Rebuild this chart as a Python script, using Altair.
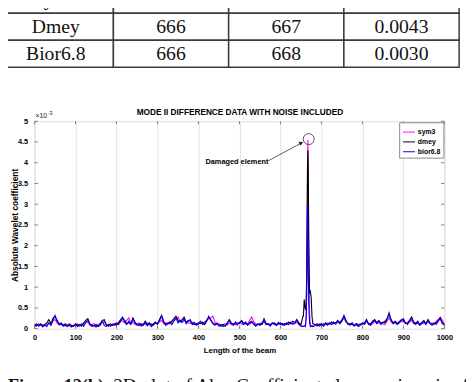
import altair as alt
import pandas as pd

# ---------------- data ----------------
series_names = ["sym3", "dmey", "bior6.8"]
series_colors = ["#ff00ff", "#000000", "#0000ff"]

x_grid = list(range(0, 1001, 5))  # sampling positions along the beam

# values in units of 1e-3
sym3_noise = [
    0.10, 0.06, 0.12, 0.08, 0.10, 0.06, 0.10, 0.12, 0.10, 0.18, 0.22, 0.14, 0.08, 0.12, 0.10, 0.06, 0.10, 0.12, 0.06, 0.08,
    0.08, 0.12, 0.06, 0.10, 0.12, 0.14, 0.16, 0.08, 0.10, 0.12, 0.06, 0.10, 0.12, 0.14, 0.16, 0.08, 0.10, 0.06, 0.12, 0.08,
    0.10, 0.16, 0.20, 0.18, 0.14, 0.20, 0.26, 0.12, 0.16, 0.10, 0.12, 0.14, 0.08, 0.12, 0.10, 0.14, 0.10, 0.12, 0.08, 0.12,
    0.14, 0.16, 0.20, 0.12, 0.14, 0.10, 0.18, 0.14, 0.20, 0.22, 0.28, 0.18, 0.14, 0.20, 0.16, 0.14, 0.12, 0.16, 0.12, 0.10,
    0.10, 0.14, 0.12, 0.16, 0.20, 0.24, 0.26, 0.30, 0.16, 0.10, 0.12, 0.08, 0.10, 0.12, 0.08, 0.14, 0.10, 0.12, 0.10, 0.08,
    0.16, 0.12, 0.10, 0.14, 0.12, 0.20, 0.28, 0.16, 0.12, 0.10, 0.08, 0.12, 0.16, 0.10, 0.12, 0.10, 0.14, 0.12, 0.08, 0.10,
    0.12, 0.08, 0.10, 0.12, 0.10, 0.14, 0.10, 0.12, 0.16, 0.10, 0.08, 0.06, 0.06, 0.40, 0.30, 0.06, 0.08, 0.10, 0.06, 0.12,
    0.08, 0.12, 0.10, 0.14, 0.12, 0.10, 0.14, 0.10, 0.16, 0.12, 0.20, 0.24, 0.16, 0.12, 0.10, 0.14, 0.08, 0.12, 0.10, 0.12,
    0.10, 0.12, 0.16, 0.14, 0.10, 0.12, 0.18, 0.12, 0.14, 0.16, 0.12, 0.10, 0.18, 0.26, 0.16, 0.12, 0.14, 0.10, 0.18, 0.16,
    0.18, 0.14, 0.12, 0.16, 0.20, 0.12, 0.14, 0.12, 0.10, 0.16, 0.12, 0.14, 0.16, 0.12, 0.14, 0.10, 0.18, 0.22, 0.28, 0.20,
    0.12,
]
dmey_noise = [
    0.05, 0.10, 0.08, 0.12, 0.06, 0.10, 0.14, 0.22, 0.12, 0.25, 0.30, 0.20, 0.12, 0.10, 0.08, 0.12, 0.06, 0.10, 0.08, 0.05,
    0.12, 0.08, 0.10, 0.06, 0.14, 0.20, 0.24, 0.12, 0.08, 0.06, 0.10, 0.05, 0.08, 0.18, 0.22, 0.10, 0.06, 0.12, 0.08, 0.10,
    0.14, 0.10, 0.18, 0.25, 0.20, 0.12, 0.15, 0.10, 0.26, 0.16, 0.10, 0.08, 0.12, 0.08, 0.18, 0.10, 0.14, 0.08, 0.12, 0.16,
    0.10, 0.22, 0.32, 0.18, 0.10, 0.14, 0.12, 0.18, 0.24, 0.30, 0.20, 0.16, 0.22, 0.28, 0.15, 0.20, 0.18, 0.12, 0.10, 0.12,
    0.14, 0.12, 0.16, 0.10, 0.18, 0.30, 0.20, 0.14, 0.10, 0.12, 0.08, 0.06, 0.10, 0.06, 0.12, 0.22, 0.14, 0.10, 0.12, 0.14,
    0.12, 0.20, 0.14, 0.12, 0.10, 0.12, 0.16, 0.12, 0.08, 0.10, 0.12, 0.10, 0.24, 0.12, 0.10, 0.08, 0.12, 0.14, 0.10, 0.12,
    0.14, 0.10, 0.12, 0.10, 0.16, 0.12, 0.18, 0.14, 0.22, 0.14, 0.10, 0.30, 0.50, 0.80, 0.85, 0.60, 0.12, 0.10, 0.08, 0.10,
    0.12, 0.08, 0.14, 0.10, 0.12, 0.16, 0.12, 0.14, 0.20, 0.12, 0.18, 0.32, 0.20, 0.10, 0.12, 0.10, 0.08, 0.12, 0.08, 0.10,
    0.12, 0.14, 0.22, 0.10, 0.12, 0.18, 0.22, 0.14, 0.20, 0.12, 0.16, 0.14, 0.22, 0.38, 0.22, 0.14, 0.18, 0.12, 0.16, 0.22,
    0.20, 0.12, 0.14, 0.20, 0.28, 0.16, 0.12, 0.18, 0.10, 0.14, 0.20, 0.12, 0.22, 0.14, 0.10, 0.12, 0.14, 0.20, 0.26, 0.14,
    0.08,
]
bior_noise = [
    0.08, 0.12, 0.06, 0.10, 0.04, 0.09, 0.05, 0.15, 0.08, 0.20, 0.32, 0.18, 0.10, 0.14, 0.06, 0.09, 0.05, 0.08, 0.04, 0.07,
    0.10, 0.05, 0.08, 0.12, 0.06, 0.15, 0.20, 0.10, 0.05, 0.08, 0.04, 0.07, 0.12, 0.20, 0.08, 0.05, 0.10, 0.06, 0.09, 0.12,
    0.08, 0.15, 0.22, 0.28, 0.15, 0.10, 0.18, 0.12, 0.24, 0.14, 0.08, 0.12, 0.06, 0.10, 0.15, 0.07, 0.12, 0.05, 0.10, 0.14,
    0.12, 0.20, 0.30, 0.16, 0.08, 0.12, 0.15, 0.10, 0.18, 0.26, 0.14, 0.20, 0.16, 0.24, 0.12, 0.18, 0.22, 0.10, 0.15, 0.08,
    0.12, 0.18, 0.10, 0.14, 0.20, 0.28, 0.22, 0.12, 0.08, 0.14, 0.06, 0.10, 0.05, 0.08, 0.14, 0.20, 0.12, 0.08, 0.16, 0.10,
    0.14, 0.18, 0.10, 0.16, 0.08, 0.15, 0.18, 0.10, 0.06, 0.12, 0.08, 0.14, 0.20, 0.10, 0.12, 0.06, 0.14, 0.10, 0.08, 0.15,
    0.10, 0.12, 0.08, 0.14, 0.10, 0.16, 0.12, 0.15, 0.20, 0.10, 0.06, 0.05, 0.08, 0.30, 0.20, 0.06, 0.05, 0.08, 0.12, 0.06,
    0.10, 0.06, 0.12, 0.08, 0.14, 0.10, 0.16, 0.12, 0.18, 0.15, 0.22, 0.30, 0.18, 0.12, 0.08, 0.14, 0.06, 0.10, 0.05, 0.08,
    0.14, 0.10, 0.20, 0.12, 0.08, 0.16, 0.20, 0.12, 0.18, 0.10, 0.14, 0.18, 0.25, 0.34, 0.20, 0.12, 0.16, 0.10, 0.14, 0.20,
    0.24, 0.14, 0.10, 0.18, 0.26, 0.14, 0.10, 0.16, 0.08, 0.12, 0.18, 0.10, 0.20, 0.12, 0.08, 0.14, 0.10, 0.18, 0.24, 0.12,
    0.10,
]

# damage peak around element 666-668
sym3_peak_x = [661, 663, 665, 666, 667, 668, 669, 671, 673]
sym3_peak_y = [0.06, 0.30, 1.60, 3.60, 4.55, 3.80, 1.90, 0.40, 0.08]
dmey_peak_x = [656, 658, 660, 662, 664, 665, 666, 667, 668, 669, 671, 673, 675, 677, 679]
dmey_peak_y = [0.30, 0.70, 0.50, 0.45, 1.20, 2.60, 3.90, 4.30, 3.70, 2.20, 0.85, 0.90, 0.75, 0.30, 0.12]
bior_peak_x = [661, 663, 665, 666, 667, 668, 669, 671, 673]
bior_peak_y = [0.06, 0.30, 1.50, 3.00, 2.60, 1.40, 0.60, 0.15, 0.05]

x_ticks = [0, 100, 200, 300, 400, 500, 600, 700, 800, 900, 1000]
y_ticks = [0, 0.5, 1, 1.5, 2, 2.5, 3, 3.5, 4, 4.5, 5]

chart_title = "MODE II DIFFERENCE DATA WITH NOISE INCLUDED"
x_title = "Length of the beam"
y_title = "Absolute Wavelet coefficient"

ann_text = "Damaged element"
ann_text_x, ann_text_y = 417, 4.02
arrow_x = [571, 648]
arrow_y = [4.05, 4.46]
arrow_head = (651, 4.48)
circle_x, circle_y = 669, 4.57

table_rows = ["Sym3", "Dmey", "Bior6.8"]
table_col2 = ["666", "666", "666"]
table_col3 = ["668", "667", "668"]
table_col4 = ["0.0047", "0.0043", "0.0030"]

caption_bold = "Figure 12(b)."
caption_rest = "2D plot of Abs. Coefficient along main axis of"

# ---------------- build tables ----------------
def build(noise, px, py, name):
    lo, hi = min(px), max(px)
    rows = [(x, v) for x, v in zip(x_grid, noise) if x < lo or x > hi]
    rows += list(zip(px, py))
    rows.sort()
    return pd.DataFrame({"x": [r[0] for r in rows], "y": [r[1] for r in rows], "series": name})

df_sym3 = build(sym3_noise, sym3_peak_x, sym3_peak_y, "sym3")
df_dmey = build(dmey_noise, dmey_peak_x, dmey_peak_y, "dmey")
df_bior = build(bior_noise, bior_peak_x, bior_peak_y, "bior6.8")

x_scale = alt.Scale(domain=[0, 1000], nice=False)
y_scale = alt.Scale(domain=[0, 5], nice=False)

x_axis = alt.Axis(values=x_ticks, format="d", grid=True, gridColor="#e2e2e2", gridWidth=1, domain=False,
                  ticks=False, tickSize=0, labelFontSize=7.5, labelFontWeight="bold", labelPadding=5,
                  labelColor="black", titleFontSize=8, titleFontWeight="bold", titleColor="black",
                  titleX=208.5, titleY=22, titleBaseline="middle", titleAlign="center", labelFlush=False)
y_axis = alt.Axis(values=y_ticks, format="~g", grid=False, domain=False, ticks=False, tickSize=0,
                  labelFontSize=7.5, labelFontWeight="bold", labelPadding=7, labelColor="black",
                  titleFontSize=8.5, titleFontWeight="bold", titleColor="black", titleAngle=270,
                  titleX=-20, titleY=105.5, titleBaseline="middle", titleAlign="center", labelFlush=False)

color_enc = alt.Color(
    "series:N",
    scale=alt.Scale(domain=series_names, range=series_colors),
    legend=alt.Legend(title=None, orient="top-right", offset=1, padding=3, fillColor="white",
                      strokeColor="#888888", symbolType="stroke", symbolSize=150, symbolStrokeWidth=1,
                      labelFontSize=7, labelFontWeight="bold", labelColor="black", labelOffset=2,
                      rowPadding=0, cornerRadius=0),
)

def line_layer(df, first):
    return alt.Chart(df).mark_line(strokeWidth=1.1).encode(
        x=alt.X("x:Q", scale=x_scale, axis=x_axis if first else None, title=x_title),
        y=alt.Y("y:Q", scale=y_scale, axis=y_axis if first else None, title=y_title),
        color=color_enc,
    )

l_sym3 = line_layer(df_sym3, True)
l_dmey = line_layer(df_dmey, False)
l_bior = line_layer(df_bior, False)

tick_color = "#7a7a7a"
df_yt = pd.DataFrame({"v": y_ticks})
df_xt = pd.DataFrame({"v": x_ticks})
left_ticks = alt.Chart(df_yt).mark_rule(color=tick_color).encode(
    x=alt.X(datum=0, scale=x_scale, axis=None), x2=alt.X2(datum=8),
    y=alt.Y("v:Q", scale=y_scale, axis=None))
right_ticks = alt.Chart(df_yt).mark_rule(color=tick_color).encode(
    x=alt.X(datum=992, scale=x_scale, axis=None), x2=alt.X2(datum=1000),
    y=alt.Y("v:Q", scale=y_scale, axis=None))
bottom_ticks = alt.Chart(df_xt).mark_rule(color=tick_color).encode(
    x=alt.X("v:Q", scale=x_scale, axis=None),
    y=alt.Y(datum=0, scale=y_scale, axis=None), y2=alt.Y2(datum=0.07))
top_ticks = alt.Chart(df_xt).mark_rule(color=tick_color).encode(
    x=alt.X("v:Q", scale=x_scale, axis=None),
    y=alt.Y(datum=4.93, scale=y_scale, axis=None), y2=alt.Y2(datum=5))

ann = alt.Chart(pd.DataFrame({"x": [ann_text_x], "y": [ann_text_y], "t": [ann_text]})).mark_text(
    align="left", baseline="middle", fontSize=7.5, fontWeight="bold", color="black").encode(
    x=alt.X("x:Q", scale=x_scale, axis=None), y=alt.Y("y:Q", scale=y_scale, axis=None), text="t:N")
arrow = alt.Chart(pd.DataFrame({"x": [arrow_x[0]], "y": [arrow_y[0]], "x2": [arrow_x[1]], "y2": [arrow_y[1]]})).mark_rule(
    color="#333333", strokeWidth=0.8).encode(
    x=alt.X("x:Q", scale=x_scale, axis=None), y=alt.Y("y:Q", scale=y_scale, axis=None), x2="x2:Q", y2="y2:Q")
head = alt.Chart(pd.DataFrame({"x": [arrow_head[0]], "y": [arrow_head[1]]})).mark_point(
    shape="triangle-up", size=22, filled=True, color="#222222", angle=62, opacity=1).encode(
    x=alt.X("x:Q", scale=x_scale, axis=None), y=alt.Y("y:Q", scale=y_scale, axis=None))
circ = alt.Chart(pd.DataFrame({"x": [circle_x], "y": [circle_y]})).mark_point(
    shape="circle", size=125, filled=False, color="#444444", strokeWidth=0.9, opacity=1).encode(
    x=alt.X("x:Q", scale=x_scale, axis=None), y=alt.Y("y:Q", scale=y_scale, axis=None))

one = pd.DataFrame({"t": [chart_title], "e1": ["\u00d710"], "e2": ["-3"], "c1": [caption_bold], "c2": [caption_rest]})
title_txt = alt.Chart(one).mark_text(align="center", baseline="middle", fontSize=8.4, fontWeight="bold",
                                     color="black").encode(x=alt.value(209), y=alt.value(-9), text="t:N")
exp1 = alt.Chart(one).mark_text(align="left", baseline="middle", fontSize=7, color="#222222").encode(
    x=alt.value(1), y=alt.value(-5), text="e1:N")
exp2 = alt.Chart(one).mark_text(align="left", baseline="middle", fontSize=5.5, color="#222222").encode(
    x=alt.value(13.5), y=alt.value(-8.5), text="e2:N")
cap1 = alt.Chart(one).mark_text(align="left", baseline="alphabetic", fontSize=18.5, fontWeight="bold",
                                font="Liberation Serif", color="#111111").encode(
    x=alt.value(-27), y=alt.value(275), text="c1:N")
cap2 = alt.Chart(one).mark_text(align="left", baseline="alphabetic", fontSize=19.5,
                                font="Liberation Serif", color="#111111").encode(
    x=alt.value(80), y=alt.value(275), text="c2:N")

# table above the figure
cols = ["c1", "c2", "c3", "c4"]
cells = []
for i, name in enumerate(table_rows):
    for c, val in zip(cols, [name, table_col2[i], table_col3[i], table_col4[i]]):
        cells.append({"row": name, "col": c, "val": val})
df_cells = pd.DataFrame(cells)
tx = alt.X("col:O", scale=alt.Scale(domain=cols, range=[-37, 432], paddingInner=0, paddingOuter=0), axis=None)
ty = alt.Y("row:O", scale=alt.Scale(domain=table_rows, range=[-137.5, -55], paddingInner=0, paddingOuter=0), axis=None)
t_rect = alt.Chart(df_cells).mark_rect(fill="white", stroke="#3a3a3a", strokeWidth=1.5).encode(x=tx, y=ty)
t_text = alt.Chart(df_cells).mark_text(font="Liberation Serif", fontSize=20, color="#111111",
                                       baseline="middle", align="center").encode(x=tx, y=ty, text="val:N")

chart = alt.layer(
    t_rect, t_text,
    l_sym3, l_dmey, l_bior, left_ticks, right_ticks, bottom_ticks, top_ticks,
    arrow, head, circ, ann, title_txt, exp1, exp2, cap1, cap2,
).resolve_scale(
    x="independent", y="independent"
).properties(
    width=417, height=211,
    autosize=alt.AutoSizeParams(type="none"),
    padding={"left": 27, "top": 112, "right": 22, "bottom": 51},
    background="white",
).configure_view(stroke="#8a8a8a", strokeWidth=1).configure(font="Liberation Sans")

chart.save("out.html", embed_options={"renderer": "svg", "actions": False})
